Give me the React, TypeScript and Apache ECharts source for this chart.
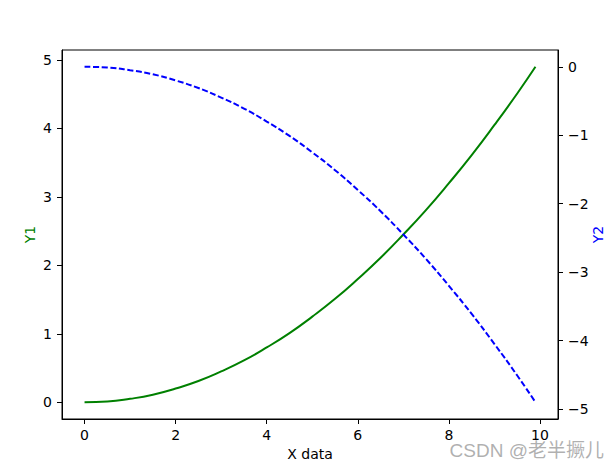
import React, { useEffect, useRef } from "react";
import * as echarts from "echarts";

const xValues = [0, 0.5, 1, 1.5, 2, 2.5, 3, 3.5, 4, 4.5, 5, 5.5, 6, 6.5, 7, 7.5, 8, 8.5, 9, 9.5, 9.9];
const y1Values = [0, 0.01, 0.05, 0.11, 0.2, 0.31, 0.45, 0.61, 0.8, 1.01, 1.25, 1.51, 1.8, 2.11, 2.45, 2.81, 3.2, 3.61, 4.05, 4.51, 4.9];
const y2Values = [0, -0.01, -0.05, -0.11, -0.2, -0.31, -0.45, -0.61, -0.8, -1.01, -1.25, -1.51, -1.8, -2.11, -2.45, -2.81, -3.2, -3.61, -4.05, -4.51, -4.9];
const xTicks = [0, 2, 4, 6, 8, 10];
const y1Ticks = [0, 1, 2, 3, 4, 5];
const y2Ticks = [0, -1, -2, -3, -4, -5];

const FONT = "DejaVu Sans";
const fmt = (v: number) => String(v).replace("-", "\u2212");

export default function App() {
  const ref = useRef<HTMLDivElement>(null);
  useEffect(() => {
    const chart = echarts.init(ref.current!, null, { renderer: "svg" });
    const tickCommon = { show: true, length: 5, lineStyle: { color: "#000", width: 1 } };
    const lineCommon = { show: true, onZero: false, lineStyle: { color: "#000", width: 1 } };
    chart.setOption({
      animation: false,
      backgroundColor: "#fff",
      grid: {
        left: 62,
        right: 58,
        top: 50,
        bottom: 51,
        show: true,
        borderColor: "#000",
        borderWidth: 1,
        backgroundColor: "transparent",
      },
      xAxis: {
        type: "value",
        min: -0.495,
        max: 10.395,
        name: "X data",
        nameLocation: "middle",
        nameGap: 28,
        nameMoveOverlap: false,
        nameTextStyle: { fontFamily: FONT, fontSize: 14, color: "#000", verticalAlign: "top" },
        axisLine: lineCommon,
        axisTick: { ...tickCommon, customValues: xTicks },
        axisLabel: { customValues: xTicks, fontFamily: FONT, fontSize: 14, color: "#000", margin: 9, formatter: fmt },
        splitLine: { show: false },
      },
      yAxis: [
        {
          type: "value",
          min: -0.245,
          max: 5.145,
          position: "left",
          name: "Y1",
          nameLocation: "middle",
          nameRotate: 90,
          nameGap: 25,
          nameMoveOverlap: false,
          nameTextStyle: { fontFamily: FONT, fontSize: 14, color: "#008000" },
          axisLine: lineCommon,
          axisTick: { ...tickCommon, customValues: y1Ticks },
          axisLabel: { customValues: y1Ticks, fontFamily: FONT, fontSize: 14, color: "#000", margin: 10, formatter: fmt },
          splitLine: { show: false },
        },
        {
          type: "value",
          min: -5.145,
          max: 0.245,
          position: "right",
          name: "Y2",
          nameLocation: "middle",
          nameRotate: 90,
          nameGap: 33,
          nameMoveOverlap: false,
          nameTextStyle: { fontFamily: FONT, fontSize: 14, color: "#0000ff" },
          axisLine: lineCommon,
          axisTick: { ...tickCommon, customValues: y2Ticks },
          axisLabel: { customValues: y2Ticks, fontFamily: FONT, fontSize: 14, color: "#000", margin: 10, formatter: fmt },
          splitLine: { show: false },
        },
      ],
      series: [
        {
          type: "line",
          yAxisIndex: 0,
          data: xValues.map((x, i) => [x, y1Values[i]]),
          showSymbol: false,
          smooth: true,
          lineStyle: { color: "#008000", width: 2 },
        },
        {
          type: "line",
          yAxisIndex: 1,
          data: xValues.map((x, i) => [x, y2Values[i]]),
          showSymbol: false,
          smooth: true,
          lineStyle: { color: "#0000ff", width: 2, type: [6, 2.6] },
        },
      ],
      graphic: [
        {
          type: "text",
          right: 12,
          top: 441,
          style: {
            text: "CSDN @老半撅儿",
            fontFamily: "Liberation Sans, Noto Sans CJK SC",
            fontSize: 19,
            fill: "rgba(150,150,150,0.75)",
          },
        },
      ],
    });
    return () => chart.dispose();
  }, []);
  return <div ref={ref} style={{ width: 616, height: 470, position: "absolute", left: 0, top: 0 }} />;
}
